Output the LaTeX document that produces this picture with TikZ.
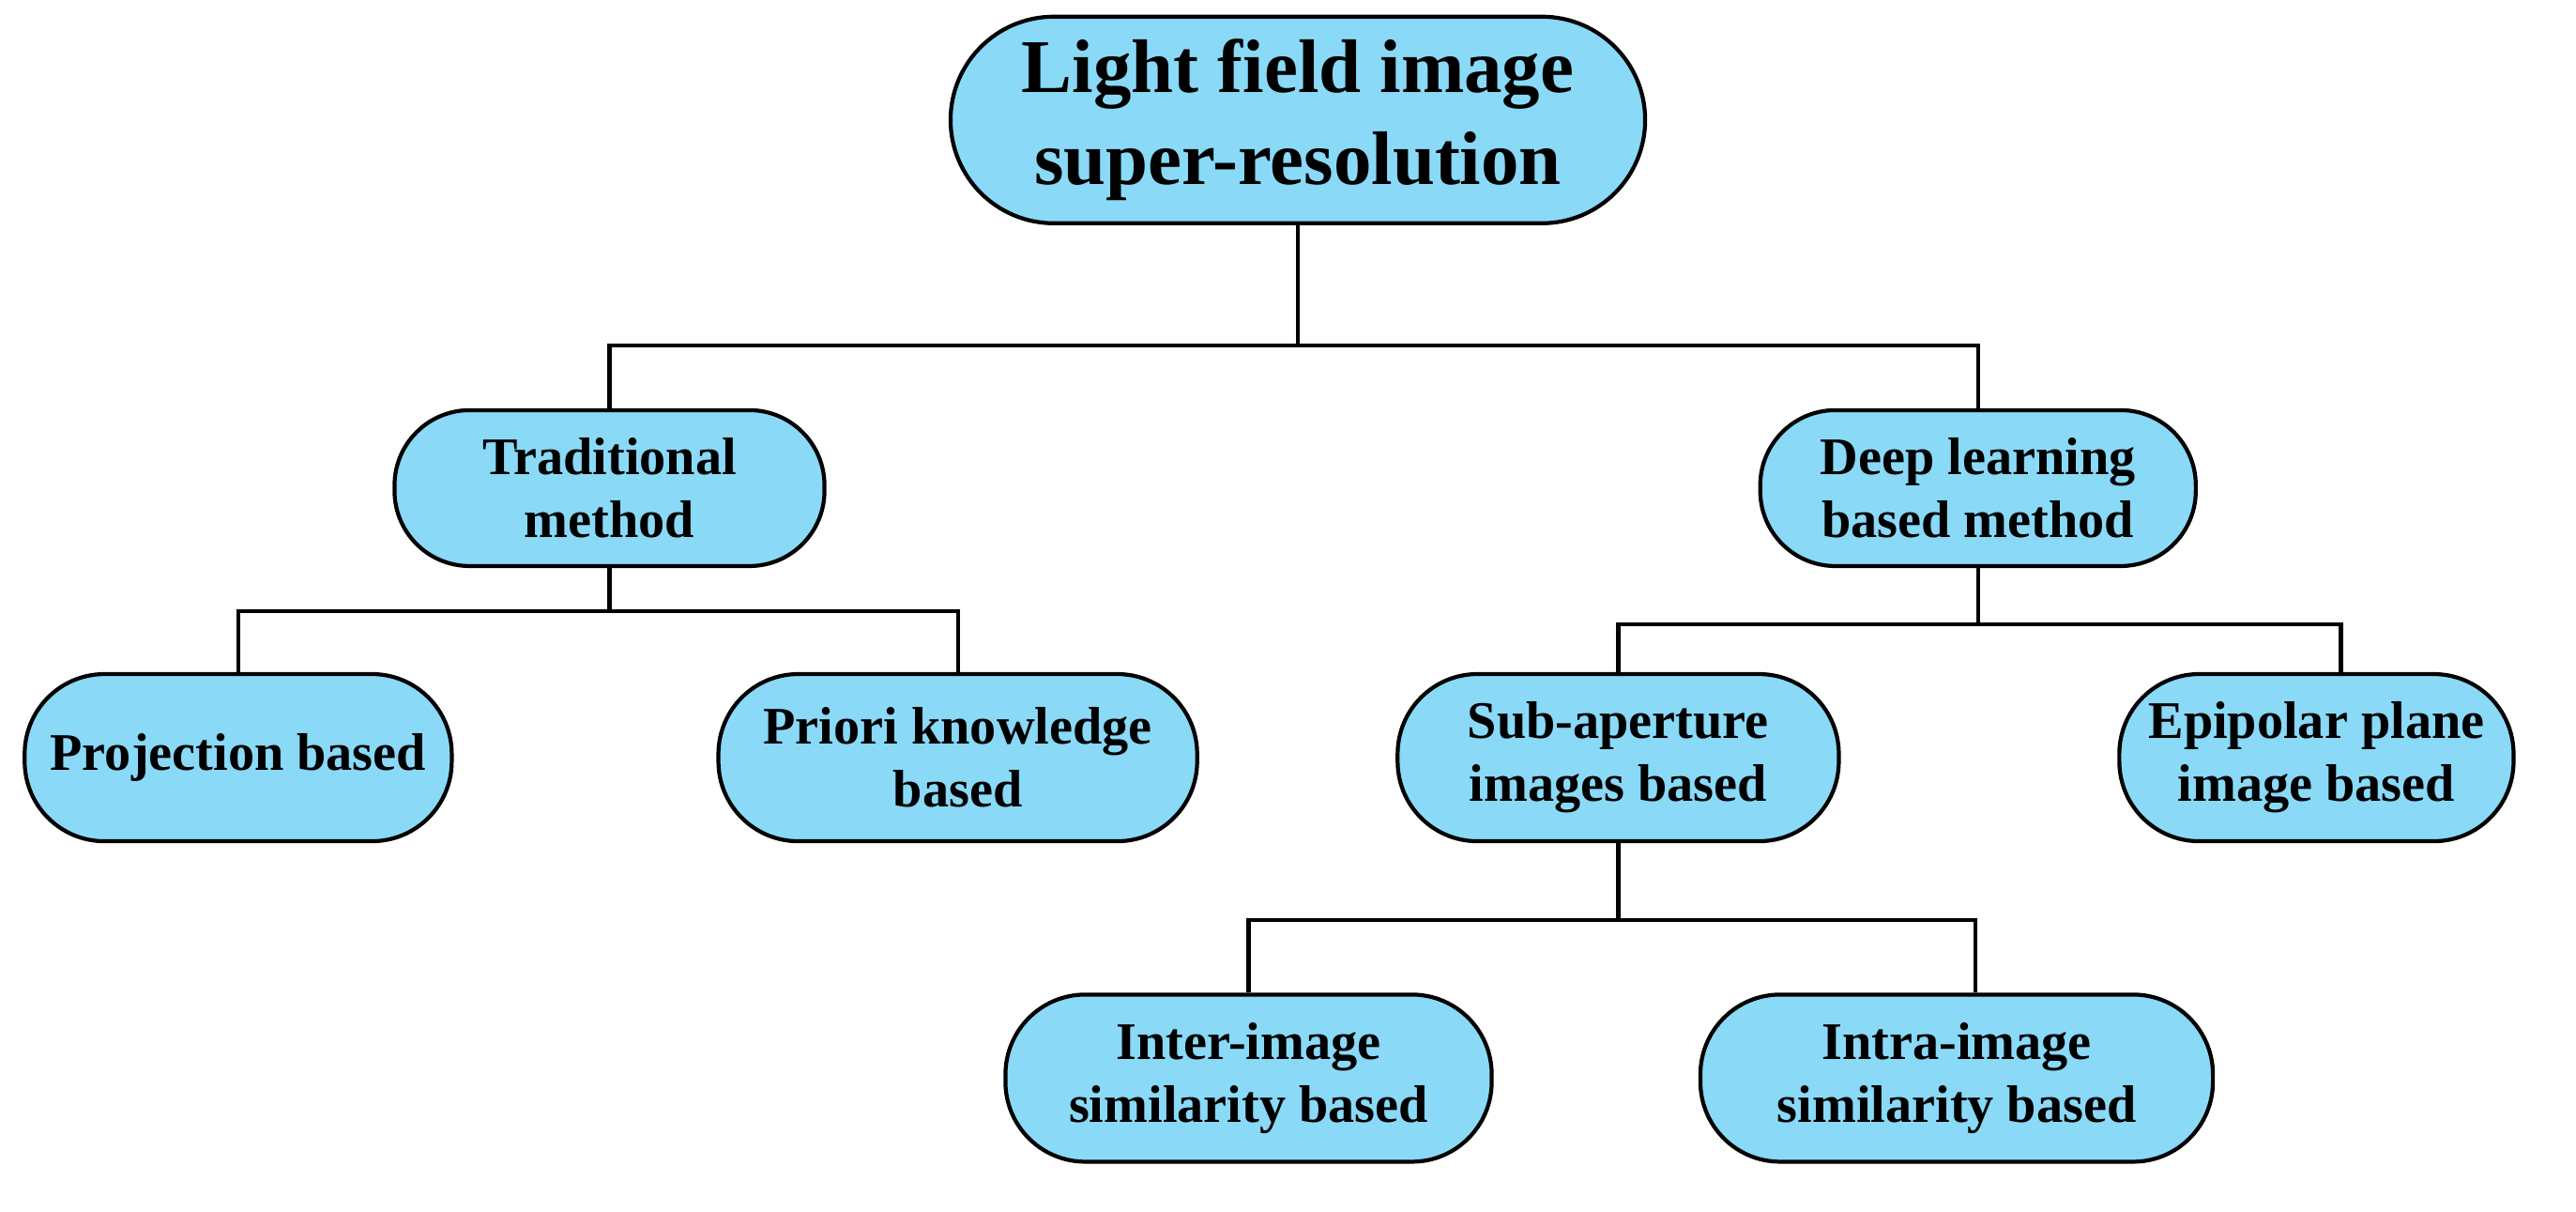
\documentclass[tikz,border=0pt]{standalone}
\usepackage{fontspec}
\setmainfont{Liberation Serif}
\begin{document}
\begin{tikzpicture}[x=0.0175cm,y=-0.0175cm,
 box/.style={draw=black,line width=1.2pt,fill=boxc,align=center,font=\bfseries\fontsize{16}{19}\selectfont,inner sep=0pt,rounded corners=0.85cm,minimum height=1.78cm},
 ln/.style={line width=1.2pt}]
\definecolor{boxc}{RGB}{137,217,247}
\useasboundingbox (0,0) rectangle (1568,737);
\node[box,minimum width=7.4cm,minimum height=2.2cm,rounded corners=1.1cm,font=\bfseries\fontsize{23}{28}\selectfont] (root) at (790,73) {Light field image\\super-resolution};
\node[box,minimum width=4.58cm,minimum height=1.66cm,rounded corners=0.8cm] (trad) at (371,297) {Traditional\\method};
\node[box,minimum width=4.64cm,minimum height=1.66cm,rounded corners=0.8cm] (deep) at (1204,297) {Deep learning\\based method};
\node[box,minimum width=4.55cm] (proj) at (145,461) {Projection based};
\node[box,minimum width=5.1cm] (prio) at (583,461) {Priori knowledge\\based};
\node[box,minimum width=4.7cm] (sub) at (985,461) {Sub-aperture\\images based};
\node[box,minimum width=4.2cm] (epi) at (1410,461) {Epipolar plane\\image based};
\node[box,minimum width=5.18cm] (inter) at (760,656) {Inter-image\\similarity based};
\node[box,minimum width=5.46cm] (intra) at (1191,656) {Intra-image\\similarity based};
\coordinate (j1) at (790,210);
\coordinate (j2) at (371,372);
\coordinate (j3) at (1204,380);
\coordinate (j4) at (985,560);
\draw[ln] (root.south) -- (j1);
\draw[ln] (trad.north) |- (j1) -| (deep.north);
\draw[ln] (trad.south) -- (j2);
\draw[ln] (proj.north) |- (j2) -| (prio.north);
\draw[ln] (deep.south) -- (j3);
\draw[ln] (sub.north) |- (j3) -| ([xshift=0.26cm]epi.north);
\draw[ln] (sub.south) -- (j4);
\draw[ln] (inter.north) |- (j4) -| ([xshift=0.2cm]intra.north);
\end{tikzpicture}
\end{document}
